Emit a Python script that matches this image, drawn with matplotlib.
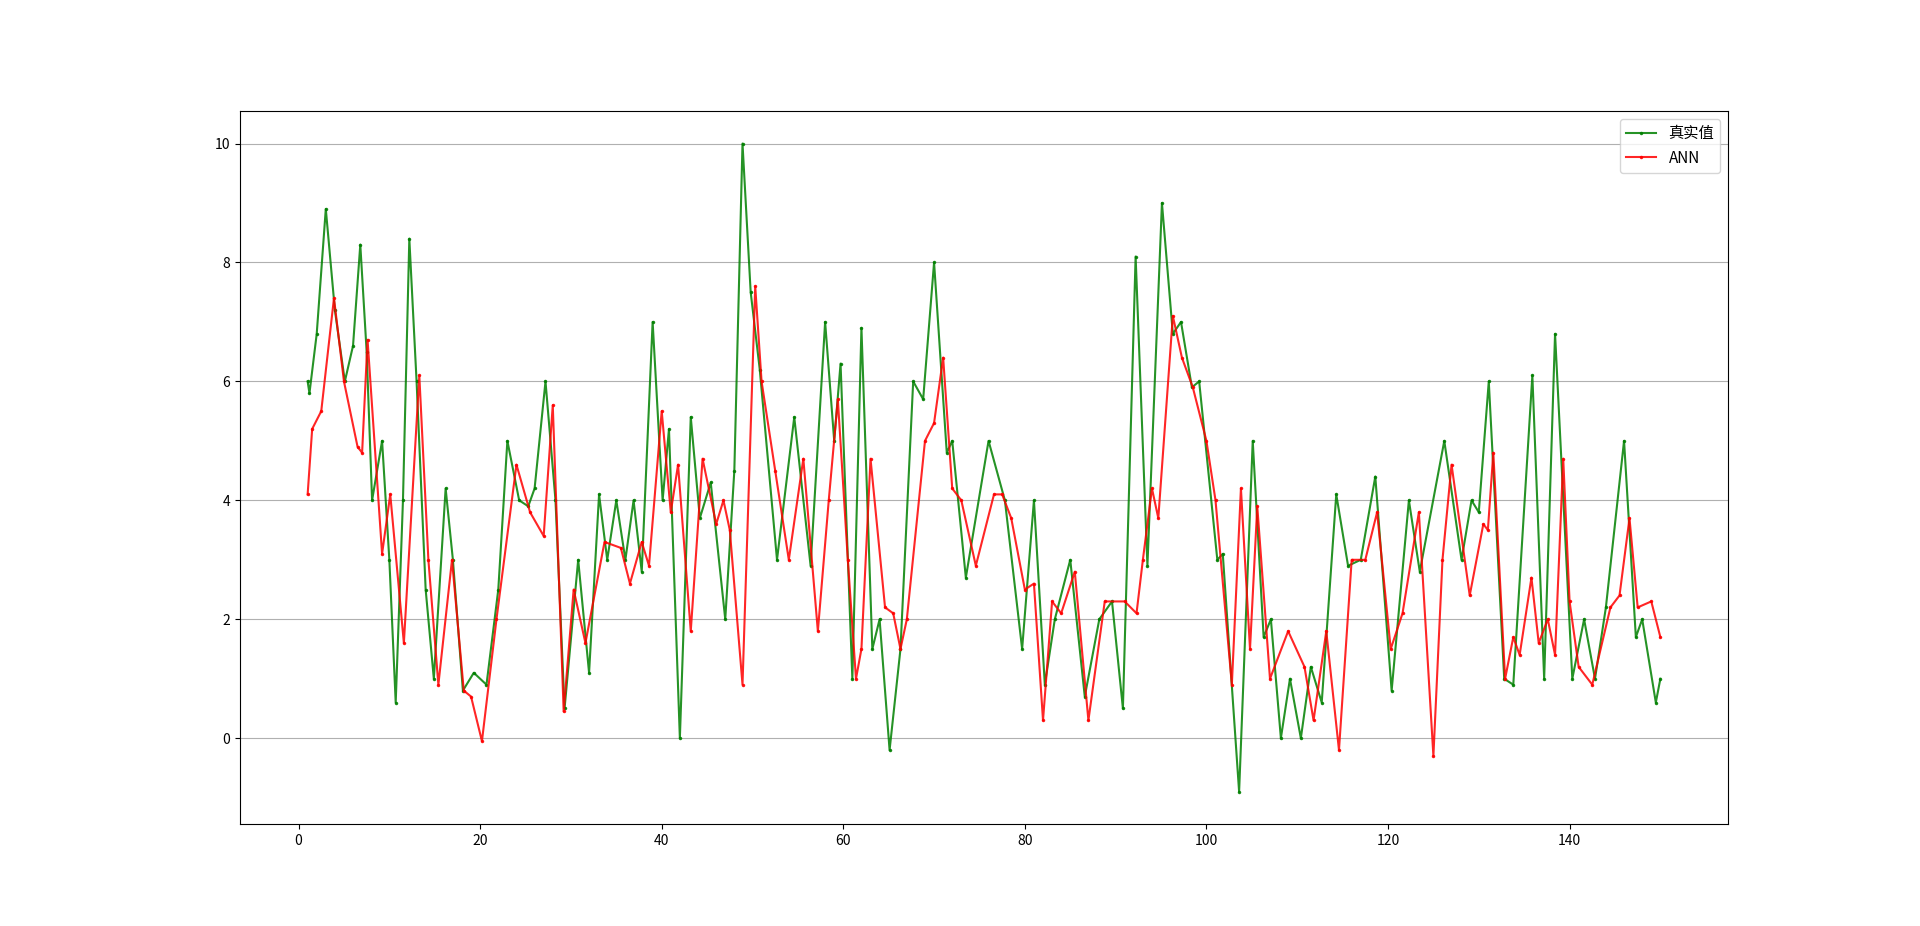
import matplotlib
matplotlib.use("Agg")
import matplotlib.pyplot as plt

plt.rcParams['font.family'] = ['Noto Sans CJK SC', 'DejaVu Sans']
plt.rcParams['axes.unicode_minus'] = False

x_true = [1, 1.2, 2, 3, 4, 5.1, 6, 6.8, 7.5, 8.1, 9.2, 10, 10.7, 11.5, 12.2, 13, 14, 14.9, 16.2, 17, 18.1, 19.3, 20.7, 22, 23, 24.3, 25.3, 26, 27.2, 28.3, 29.3, 30.8, 32, 33.1, 34, 35, 36, 36.9, 37.8, 39, 40.1, 40.8, 42, 43.2, 44.2, 45.4, 47, 48, 48.9, 49.8, 50.8, 52.7, 54.6, 56.4, 58, 59, 59.7, 61, 62, 63.2, 64, 65.1, 66.3, 67.7, 68.8, 70, 71.4, 72, 73.5, 76, 77.8, 79.7, 81, 82.2, 83.3, 85, 86.6, 88.2, 89.6, 90.8, 92.2, 93.5, 95.1, 96.3, 97.2, 98.4, 99.2, 101.2, 101.8, 103.6, 105.1, 106.3, 107.1, 108.2, 109.2, 110.4, 111.5, 112.7, 114.3, 115.6, 117, 118.6, 120.4, 122.3, 123.5, 126.2, 128.1, 129.2, 130, 131.1, 132.8, 133.8, 135.9, 137.2, 138.4, 140.3, 141.6, 142.8, 144, 146, 147.3, 148, 149.5, 150]
y_true = [6.0, 5.8, 6.8, 8.9, 7.2, 6.0, 6.6, 8.3, 6.5, 4.0, 5.0, 3.0, 0.6, 4.0, 8.4, 6.0, 2.5, 1.0, 4.2, 3.0, 0.8, 1.1, 0.9, 2.5, 5.0, 4.0, 3.9, 4.2, 6.0, 4.0, 0.5, 3.0, 1.1, 4.1, 3.0, 4.0, 3.0, 4.0, 2.8, 7.0, 4.0, 5.2, 0.0, 5.4, 3.7, 4.3, 2.0, 4.5, 10.0, 7.5, 6.2, 3.0, 5.4, 2.9, 7.0, 5.0, 6.3, 1.0, 6.9, 1.5, 2.0, -0.2, 1.5, 6.0, 5.7, 8.0, 4.8, 5.0, 2.7, 5.0, 4.0, 1.5, 4.0, 0.9, 2.0, 3.0, 0.7, 2.0, 2.3, 0.5, 8.1, 2.9, 9.0, 6.8, 7.0, 5.9, 6.0, 3.0, 3.1, -0.9, 5.0, 1.7, 2.0, 0.0, 1.0, 0.0, 1.2, 0.6, 4.1, 2.9, 3.0, 4.4, 0.8, 4.0, 2.8, 5.0, 3.0, 4.0, 3.8, 6.0, 1.0, 0.9, 6.1, 1.0, 6.8, 1.0, 2.0, 1.0, 2.2, 5.0, 1.7, 2.0, 0.6, 1.0]

x_ann = [1, 1.5, 2.5, 3.9, 5, 6.5, 7, 7.6, 9.2, 10.1, 11.6, 13.3, 14.3, 15.4, 16.9, 18.2, 19, 20.2, 21.8, 24, 25.5, 27, 28, 29.2, 30.3, 31.6, 33.7, 35.5, 36.5, 37.8, 38.6, 40, 41, 41.8, 43.2, 44.5, 46, 46.8, 47.5, 48.9, 50.3, 51, 52.5, 54, 55.6, 57.2, 58.4, 59.4, 60.5, 61.4, 62, 63, 64.6, 65.5, 66.3, 67, 69, 70, 71, 72, 73, 74.6, 76.6, 77.5, 78.5, 80, 81, 82, 83, 84, 85.5, 87, 88.8, 91, 92.3, 93, 94, 94.7, 96.3, 97.3, 98.5, 100, 101, 102.8, 103.8, 104.8, 105.6, 107, 109, 110.8, 111.8, 113.2, 114.6, 116, 117.5, 118.8, 120.3, 121.6, 123.4, 125, 126, 127, 129, 130.5, 131, 131.6, 132.9, 133.8, 134.5, 135.8, 136.6, 137.6, 138.4, 139.3, 140, 141, 142.5, 144.5, 145.5, 146.6, 147.5, 149, 150]
y_ann = [4.1, 5.2, 5.5, 7.4, 6.0, 4.9, 4.8, 6.7, 3.1, 4.1, 1.6, 6.1, 3.0, 0.9, 3.0, 0.8, 0.7, -0.05, 2.0, 4.6, 3.8, 3.4, 5.6, 0.45, 2.5, 1.6, 3.3, 3.2, 2.6, 3.3, 2.9, 5.5, 3.8, 4.6, 1.8, 4.7, 3.6, 4.0, 3.5, 0.9, 7.6, 6.0, 4.5, 3.0, 4.7, 1.8, 4.0, 5.7, 3.0, 1.0, 1.5, 4.7, 2.2, 2.1, 1.5, 2.0, 5.0, 5.3, 6.4, 4.2, 4.0, 2.9, 4.1, 4.1, 3.7, 2.5, 2.6, 0.3, 2.3, 2.1, 2.8, 0.3, 2.3, 2.3, 2.1, 3.0, 4.2, 3.7, 7.1, 6.4, 5.9, 5.0, 4.0, 0.9, 4.2, 1.5, 3.9, 1.0, 1.8, 1.2, 0.3, 1.8, -0.2, 3.0, 3.0, 3.8, 1.5, 2.1, 3.8, -0.3, 3.0, 4.6, 2.4, 3.6, 3.5, 4.8, 1.0, 1.7, 1.4, 2.7, 1.6, 2.0, 1.4, 4.7, 2.3, 1.2, 0.9, 2.2, 2.4, 3.7, 2.2, 2.3, 1.7]

fig, ax = plt.subplots(figsize=(19.2, 9.26), dpi=100)
ax.plot(x_true, y_true, color='green', marker='.', markersize=3, linewidth=1.5, label='真实值', alpha=0.85)
ax.plot(x_ann, y_ann, color='red', marker='.', markersize=3, linewidth=1.5, label='ANN', alpha=0.85)
ax.grid(axis='y')
ax.set_yticks([0, 2, 4, 6, 8, 10])
ax.set_xticks([0, 20, 40, 60, 80, 100, 120, 140])
ax.legend(loc='upper right', fontsize=11)
fig.savefig('out.png')
